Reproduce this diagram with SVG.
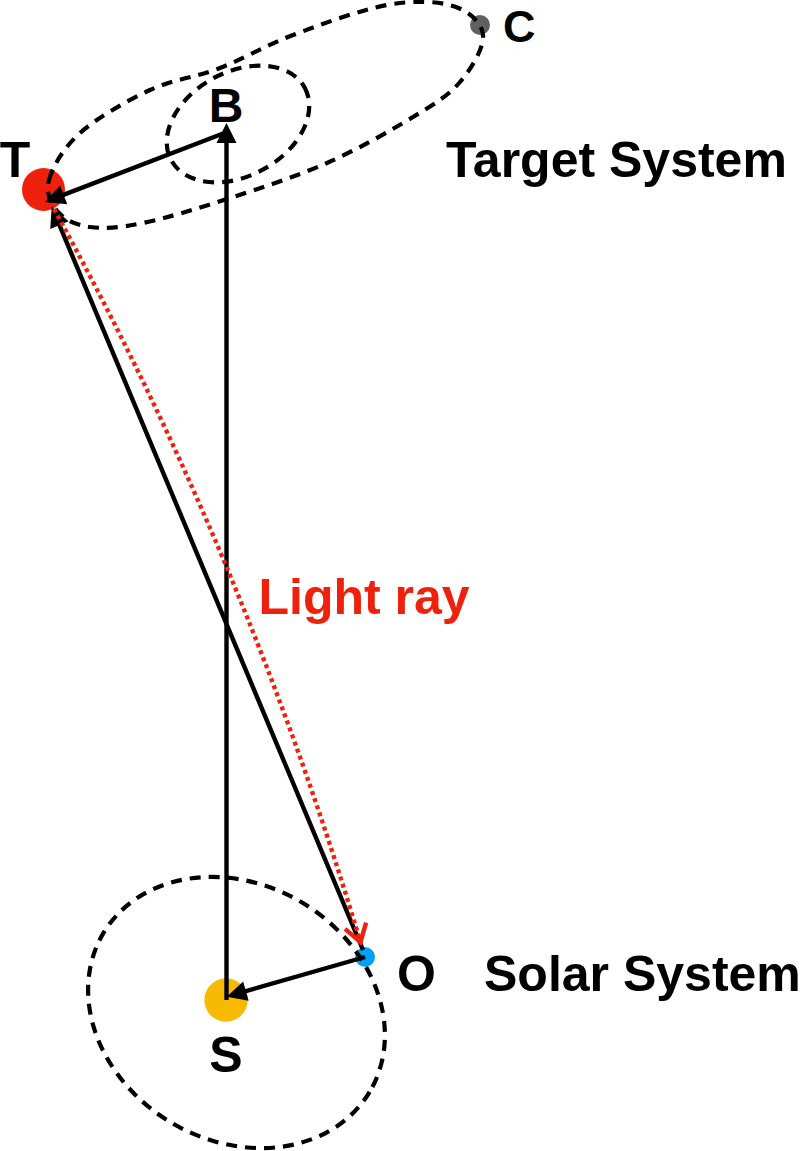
<svg xmlns="http://www.w3.org/2000/svg" width="800" height="1151" viewBox="0 0 800 1151">
<style>
.orbit{fill:none;stroke:#000;stroke-width:4.2;stroke-dasharray:11 8}
.vec{fill:none;stroke:#000;stroke-width:4.4;marker-end:url(#ah)}
.ray{fill:none;stroke:#EE220C;stroke-width:4.4;stroke-dasharray:4 3.5;marker-end:url(#ch)}
.lbl{font-family:"Liberation Sans",Arial,Helvetica,sans-serif;font-weight:bold;font-size:50px;fill:#000}
</style>
<defs>
<marker id="ah" markerUnits="userSpaceOnUse" viewBox="-11 -11 22 22" refX="0" refY="0" markerWidth="22" markerHeight="22" orient="auto"><path d="M-10,-10 L10,0 L-10,10 Z" fill="#000"/></marker>
<marker id="ch" markerUnits="userSpaceOnUse" viewBox="-22 -13 26 26" refX="0" refY="0" markerWidth="26" markerHeight="26" orient="auto"><path d="M-19,-11 L-2,0 L-19,11" fill="none" stroke="#EE220C" stroke-width="4.4"/></marker>
</defs>
<rect width="800" height="1151" fill="#fff"/>
<g id="node-T"><circle cx="43.5" cy="189.5" r="21.5" fill="#EE220C"/><text class="lbl" x="15" y="177" text-anchor="middle">T</text></g>
<g id="node-C"><circle cx="480" cy="25" r="10" fill="#606060"/><text class="lbl" x="503" y="42" style="font-size:45px">C</text></g>
<g id="node-B"><text class="lbl" x="226" y="122" text-anchor="middle" style="font-size:48px">B</text></g>
<g id="node-S"><circle cx="226" cy="1000" r="21.7" fill="#F8BA00"/><text class="lbl" x="226" y="1072" text-anchor="middle">S</text></g>
<g id="node-O"><circle cx="365" cy="957" r="10" fill="#00A0F5"/><text class="lbl" x="416.5" y="991" text-anchor="middle">O</text></g>
<g id="label-target"><text class="lbl" x="446" y="177">Target System</text></g>
<g id="label-solar"><text class="lbl" x="484" y="991">Solar System</text></g>
<g id="orbits">
<path class="orbit" d="M49,180 C52.7,166.8 63.2,148 80,133 C96.8,118 126.7,100.8 150,90 C173.3,79.2 196.2,77.2 220,68 C243.8,58.8 265.2,45.5 293,35 C320.8,24.5 360.3,9.8 387,5 C413.7,0.2 437,1 453,6 C469,11 481.8,22.3 483,35 C484.2,47.7 471.7,68.3 460,82 C448.3,95.7 435.2,103.5 413,117 C390.8,130.5 357.5,149.5 327,163 C296.5,176.5 260.7,188 230,198 C199.3,208 166.3,218.2 143,223 C119.7,227.8 104.2,228.8 90,227 C75.8,225.2 64.8,219.8 58,212 C51.2,204.2 45.3,193.2 49,180 Z"/>
<ellipse class="orbit" cx="238" cy="124" rx="76" ry="52" transform="rotate(-28.5 238 124)"/>
<ellipse class="orbit" cx="236.5" cy="1012.5" rx="155" ry="128" transform="rotate(30.8 236.5 1012.5)"/>
</g>
<g id="connectors">
<line class="vec" x1="226.5" y1="1000" x2="226.5" y2="133"/>
<line class="vec" x1="227" y1="132" x2="54.3" y2="198.4"/>
<line class="vec" x1="363" y1="950" x2="55.6" y2="215.9"/>
<line class="vec" x1="365" y1="957" x2="236.3" y2="993.9"/>
<path class="ray" d="M54,209 Q246.8,560.4 361,944"/>
</g>
<g id="label-ray"><text class="lbl" x="258.5" y="614" style="fill:#EE220C">Light ray</text></g>
</svg>
